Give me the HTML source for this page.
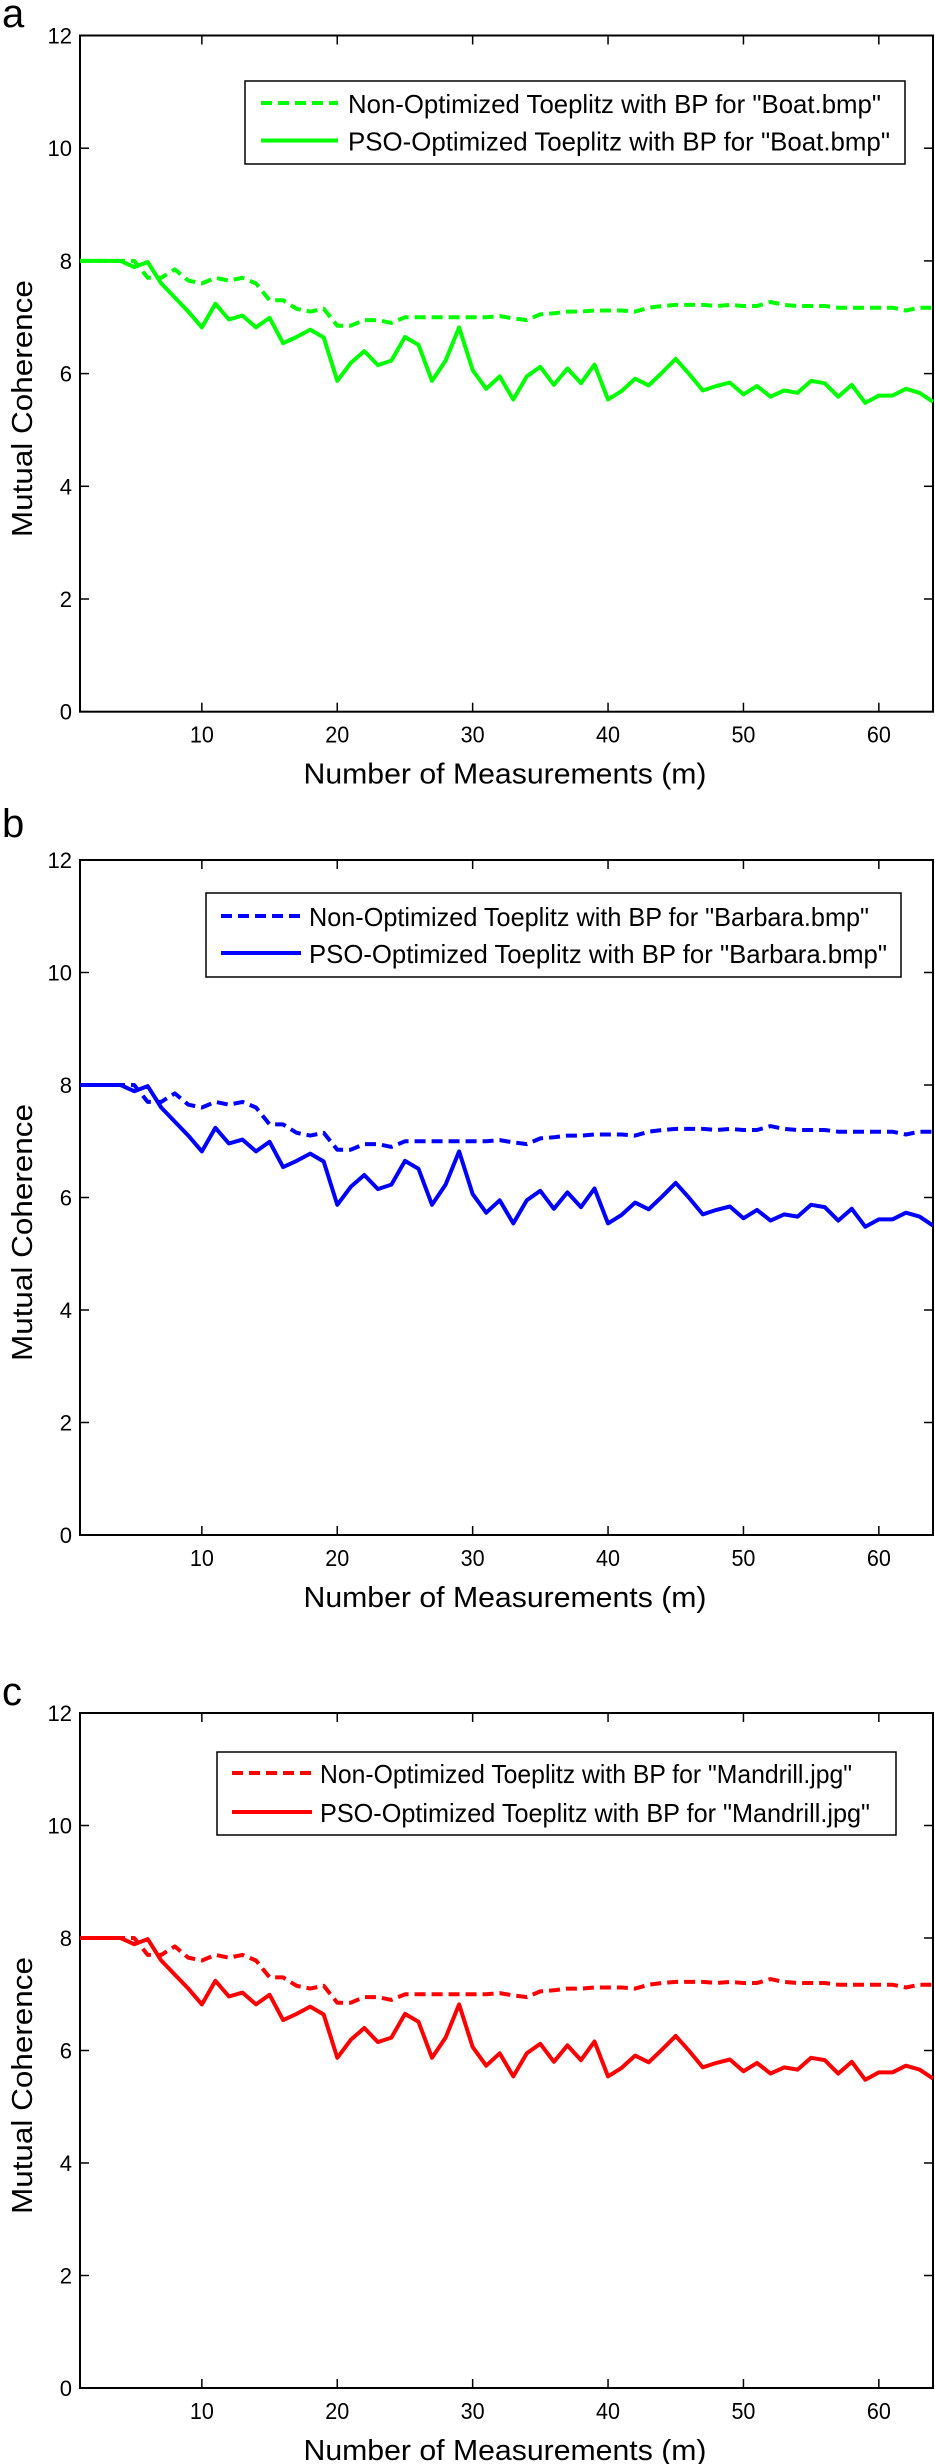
<!DOCTYPE html>
<html><head><meta charset="utf-8"><style>
html,body{margin:0;padding:0;background:#fff;}
svg{display:block;font-family:"Liberation Sans",Arial,sans-serif;}
</style></head>
<body>
<svg id="fig" width="935" height="2464" viewBox="0 0 935 2464" xmlns="http://www.w3.org/2000/svg"></svg>
<script>
const xValues = [];
for (let i = 1; i <= 64; i++) xValues.push(i);
const nonOptimizedValues = [8,8,8,8,8,7.7,7.7,7.85,7.65,7.6,7.7,7.65,7.7,7.6,7.3,7.3,7.15,7.1,7.15,6.85,6.85,6.95,6.95,6.9,7.0,7.0,7.0,7.0,7.0,7.0,7.0,7.02,6.98,6.95,7.05,7.07,7.1,7.1,7.12,7.12,7.12,7.1,7.17,7.2,7.22,7.22,7.22,7.2,7.22,7.2,7.2,7.27,7.22,7.2,7.2,7.2,7.17,7.17,7.17,7.17,7.17,7.12,7.17,7.17];
const psoOptimizedValues = [8,8,8,8,7.89,7.98,7.6,7.35,7.1,6.82,7.24,6.96,7.03,6.82,6.99,6.54,6.65,6.78,6.64,5.87,6.19,6.4,6.15,6.23,6.65,6.51,5.87,6.23,6.82,6.06,5.73,5.95,5.54,5.95,6.12,5.8,6.09,5.83,6.16,5.54,5.69,5.91,5.79,6.02,6.26,5.99,5.7,5.78,5.84,5.63,5.78,5.59,5.7,5.66,5.87,5.83,5.59,5.8,5.48,5.61,5.61,5.73,5.66,5.5];
const xTicks = [10,20,30,40,50,60];
const yTicks = [0,2,4,6,8,10,12];
const panelLetters = ["a","b","c"];
const panelColors = ["#00ff00","#0000ff","#ff0000"];
const panelFiles = ['"Boat.bmp"','"Barbara.bmp"','"Mandrill.jpg"'];

const NS = "http://www.w3.org/2000/svg";
const svg = document.getElementById("fig");
function mk(tag, attrs, parent) {
  const e = document.createElementNS(NS, tag);
  for (const k in attrs) e.setAttribute(k, attrs[k]);
  (parent || svg).appendChild(e);
  return e;
}
const panels = [
  {top:35.5, bottom:711.7, leg:{x:245,y:81,w:660,h:83,l1:103,l2:140.5,lx1:261,lx2:338,tx:348,tw1:533,tw2:542}},
  {top:860, bottom:1535, leg:{x:206,y:893,w:695,h:84,l1:916,l2:953,lx1:221,lx2:301,tx:309,tw1:560,tw2:578}},
  {top:1713, bottom:2388, leg:{x:217,y:1752,w:679,h:83,l1:1773,l2:1812,lx1:232,lx2:312,tx:320,tw1:532,tw2:550}}
];
const L = 80, R = 933;
panels.forEach((p, pi) => {
  const g = mk("g", {});
  
  
  const xs = v => L + (v - 1) / 63 * (R - L);
  const ys = v => p.bottom - v / 12 * (p.bottom - p.top);
  // panel letter
  const lt = mk("text", {x:2, y:(pi===0?27:(pi===1?837:1705)), "font-size":40}, g);
  lt.textContent = panelLetters[pi];
  
  
  // axes box
  const box = mk("rect", {x:L, y:p.top, width:R-L, height:p.bottom-p.top, fill:"none", stroke:"#000", "stroke-width":2}, g);
  
  
  // ticks
  xTicks.forEach(t => {
    const x = xs(t);
    mk("line", {x1:x, x2:x, y1:p.bottom, y2:p.bottom-9, stroke:"#000","stroke-width":1.5}, g);
    mk("line", {x1:x, x2:x, y1:p.top, y2:p.top+9, stroke:"#000","stroke-width":1.5}, g);
    const tl = mk("text", {x:x, y:p.bottom+31, "font-size":23, "text-anchor":"middle", textLength:24, lengthAdjust:"spacingAndGlyphs"}, g);
    tl.textContent = t;
    
    
  });
  yTicks.forEach(t => {
    const y = ys(t);
    mk("line", {x1:L, x2:L+9, y1:y, y2:y, stroke:"#000","stroke-width":1.5}, g);
    mk("line", {x1:R, x2:R-9, y1:y, y2:y, stroke:"#000","stroke-width":1.5}, g);
    const tl = mk("text", {x:72, y:y+8, "font-size":22, "text-anchor":"end"}, g);
    tl.textContent = t;
    
    
  });
  // axis titles
  const xt = mk("text", {x:505, y:p.bottom+72, "font-size":29, "text-anchor":"middle", textLength:403, lengthAdjust:"spacingAndGlyphs"}, g);
  xt.textContent = "Number of Measurements (m)";
  
  
  const cy = (p.top + p.bottom) / 2 + 35;
  const yt = mk("text", {x:0, y:0, "font-size":29, "text-anchor":"middle", textLength:257, lengthAdjust:"spacingAndGlyphs", transform:`translate(32,${cy}) rotate(-90)`}, g);
  yt.textContent = "Mutual Coherence";
  
  
  // series
  const color = panelColors[pi];
  const d1 = nonOptimizedValues.map((v,i) => (i?"L":"M") + xs(xValues[i]).toFixed(1) + "," + ys(v).toFixed(1)).join("");
  const s1 = mk("path", {d:d1, fill:"none", stroke:color, "stroke-width":4, "stroke-dasharray":"11,6", "stroke-linejoin":"round"}, g);
  
  
  const d2 = psoOptimizedValues.map((v,i) => (i?"L":"M") + xs(xValues[i]).toFixed(1) + "," + ys(v).toFixed(1)).join("");
  const s2 = mk("path", {d:d2, fill:"none", stroke:color, "stroke-width":4, "stroke-linejoin":"round"}, g);
  
  
  // legend
  const q = p.leg;
  const lg = mk("g", {}, g);
  
  
  mk("rect", {x:q.x, y:q.y, width:q.w, height:q.h, fill:"#fff", stroke:"#000", "stroke-width":1.5}, lg);
  mk("line", {x1:q.lx1, x2:q.lx2, y1:q.l1, y2:q.l1, stroke:color, "stroke-width":4, "stroke-dasharray":"11,6"}, lg);
  mk("line", {x1:q.lx1, x2:q.lx2, y1:q.l2, y2:q.l2, stroke:color, "stroke-width":4}, lg);
  const e1 = mk("text", {x:q.tx, y:q.l1+10, "font-size":26, textLength:q.tw1, lengthAdjust:"spacingAndGlyphs"}, lg);
  e1.textContent = "Non-Optimized Toeplitz with BP for " + panelFiles[pi];
  
  
  const e2 = mk("text", {x:q.tx, y:q.l2+10, "font-size":26, textLength:q.tw2, lengthAdjust:"spacingAndGlyphs"}, lg);
  e2.textContent = "PSO-Optimized Toeplitz with BP for " + panelFiles[pi];
  
  
});
</script>
</body></html>
